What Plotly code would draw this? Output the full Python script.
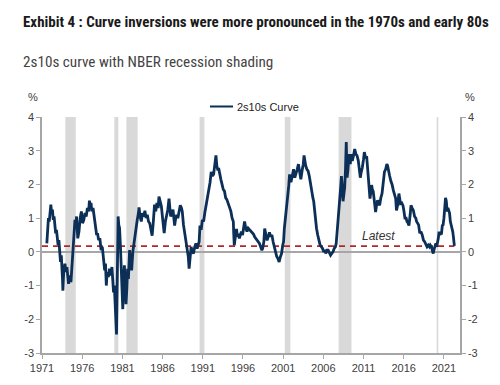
import plotly.graph_objects as go

# ---- data ----
curve_years = [
    1971.6, 1971.7, 1971.8, 1971.9, 1972.0, 1972.1, 1972.2, 1972.3, 1972.4, 1972.5, 1972.7, 1972.8,
    1973.0, 1973.1, 1973.3, 1973.4, 1973.55, 1973.6, 1973.7, 1973.85, 1974.0, 1974.1, 1974.3, 1974.4,
    1974.6, 1974.7, 1974.8, 1974.9, 1975.0, 1975.1, 1975.2, 1975.3, 1975.45, 1975.6, 1975.75, 1975.9,
    1976.05, 1976.2, 1976.35, 1976.5, 1976.65, 1976.8, 1976.9, 1977.0, 1977.1, 1977.2, 1977.35, 1977.5,
    1977.6, 1977.7, 1977.8, 1977.9, 1978.05, 1978.2, 1978.35, 1978.5, 1978.65, 1978.8, 1978.9, 1979.0,
    1979.1, 1979.25, 1979.4, 1979.55, 1979.7, 1979.8, 1979.9, 1980.0, 1980.1, 1980.2, 1980.27, 1980.33,
    1980.4, 1980.47, 1980.55, 1980.65, 1980.75, 1980.85, 1980.95, 1981.05, 1981.15, 1981.25, 1981.35, 1981.45,
    1981.55, 1981.65, 1981.75, 1981.9, 1982.0, 1982.15, 1982.3, 1982.4, 1982.55, 1982.7, 1982.85, 1983.0,
    1983.07, 1983.2, 1983.35, 1983.5, 1983.65, 1983.8, 1983.95, 1984.1, 1984.25, 1984.4, 1984.55, 1984.7,
    1984.85, 1985.0, 1985.15, 1985.3, 1985.45, 1985.55, 1985.7, 1985.85, 1986.0, 1986.1, 1986.2, 1986.35,
    1986.5, 1986.65, 1986.8, 1986.9, 1987.0, 1987.15, 1987.3, 1987.4, 1987.5, 1987.6, 1987.75, 1987.9,
    1988.05, 1988.2, 1988.35, 1988.45, 1988.6, 1988.75, 1988.9, 1989.05, 1989.2, 1989.3, 1989.4, 1989.55,
    1989.7, 1989.85, 1990.0, 1990.15, 1990.3, 1990.45, 1990.55, 1990.65, 1990.8, 1990.95, 1991.1, 1991.25,
    1991.4, 1991.5, 1991.65, 1991.8, 1991.9, 1992.05, 1992.2, 1992.35, 1992.45, 1992.55, 1992.64, 1992.75,
    1992.85, 1993.0, 1993.1, 1993.25, 1993.4, 1993.55, 1993.7, 1993.85, 1994.0, 1994.2, 1994.35, 1994.5,
    1994.65, 1994.8, 1994.85, 1994.92, 1995.0, 1995.1, 1995.2, 1995.3, 1995.4, 1995.55, 1995.7, 1995.8,
    1995.95, 1996.1, 1996.2, 1996.35, 1996.5, 1996.65, 1996.85, 1997.0, 1997.15, 1997.3, 1997.45, 1997.6,
    1997.75, 1997.9, 1998.05, 1998.2, 1998.35, 1998.45, 1998.6, 1998.7, 1998.85, 1999.0, 1999.15, 1999.3,
    1999.45, 1999.6, 1999.75, 1999.9, 2000.05, 2000.2, 2000.35, 2000.5, 2000.65, 2000.8, 2000.95, 2001.05,
    2001.15, 2001.25, 2001.4, 2001.55, 2001.7, 2001.8, 2001.9, 2002.0, 2002.15, 2002.3, 2002.45, 2002.6,
    2002.75, 2002.9, 2003.05, 2003.2, 2003.35, 2003.5, 2003.6, 2003.7, 2003.8, 2003.95, 2004.1, 2004.25,
    2004.4, 2004.55, 2004.7, 2004.8, 2004.9, 2005.0, 2005.15, 2005.3, 2005.45, 2005.6, 2005.75, 2005.9,
    2006.05, 2006.2, 2006.3, 2006.45, 2006.6, 2006.75, 2006.9, 2007.05, 2007.2, 2007.35, 2007.5, 2007.6,
    2007.7, 2007.85, 2007.95, 2008.05, 2008.15, 2008.25, 2008.35, 2008.45, 2008.55, 2008.65, 2008.75, 2008.85,
    2008.95, 2009.05, 2009.2, 2009.35, 2009.45, 2009.6, 2009.75, 2009.9, 2010.05, 2010.2, 2010.35, 2010.5,
    2010.6, 2010.7, 2010.85, 2011.0, 2011.1, 2011.25, 2011.4, 2011.5, 2011.6, 2011.7, 2011.8, 2011.9,
    2012.0, 2012.1, 2012.2, 2012.35, 2012.5, 2012.6, 2012.75, 2012.85, 2013.0, 2013.15, 2013.3, 2013.45,
    2013.6, 2013.75, 2013.9, 2014.0, 2014.1, 2014.25, 2014.4, 2014.55, 2014.7, 2014.85, 2015.0, 2015.1,
    2015.25, 2015.4, 2015.5, 2015.6, 2015.75, 2015.9, 2016.0, 2016.15, 2016.3, 2016.4, 2016.55, 2016.65,
    2016.8, 2016.9, 2017.05, 2017.2, 2017.35, 2017.5, 2017.6, 2017.75, 2017.85, 2018.0, 2018.15, 2018.3,
    2018.45, 2018.6, 2018.75, 2018.9, 2019.05, 2019.2, 2019.3, 2019.45, 2019.55, 2019.67, 2019.75, 2019.9,
    2020.0, 2020.1, 2020.2, 2020.3, 2020.4, 2020.5, 2020.6, 2020.7, 2020.8, 2020.9, 2021.0, 2021.1,
    2021.2, 2021.3, 2021.4, 2021.5, 2021.6, 2021.7, 2021.8, 2021.9, 2022.0, 2022.1, 2022.2, 2022.3,
]
curve_values = [
    0.25, 0.8, 1.0, 0.9, 1.25, 1.40, 1.15, 1.25, 0.95, 1.05, 0.55, 0.65,
    0.2, 0.35, -0.3, -0.1, -0.8, -1.15, -0.6, -0.35, -0.6, -0.45, -0.95, -0.7,
    -0.9, -0.55, -0.1, 0.2, 0.6, 0.95, 0.7, 1.05, 0.4, 0.6, 1.0, 1.2,
    0.85, 0.95, 1.15, 1.05, 1.3, 1.2, 1.52, 1.35, 1.45, 1.2, 1.3, 1.05,
    0.85, 0.75, 0.5, 0.55, 0.35, 0.4, 0.05, 0.15, -0.3, -0.55, -0.35, -1.0,
    -0.6, -0.75, -0.5, -0.7, -0.45, -0.9, -1.2, -1.0, -1.5, -1.9, -2.45, -1.4,
    -0.2, 1.05, 0.8, 0.7, 0.2, -0.3, -0.8, -1.7, -0.9, -0.4, -1.0, -1.55,
    -1.1, -0.5, -0.8, 0.05, -0.3, -0.55, 0.0, 0.2, 0.35, 0.7, 0.95, 1.15,
    1.32, 1.05, 0.9, 1.15, 1.05, 1.22, 1.0, 1.1, 0.9, 0.85, 0.6, 0.48,
    0.9, 1.4, 1.2, 1.45, 1.3, 1.64, 1.5, 1.35, 1.0, 0.7, 0.56, 0.9,
    1.05, 1.25, 1.58, 1.3, 1.05, 1.15, 1.25, 1.0, 0.78, 0.95, 1.1, 1.0,
    1.2, 1.38, 1.3, 1.2, 0.8, 0.55, 0.3, 0.05, -0.15, -0.5, -0.2, 0.15,
    0.0, -0.05, 0.15, 0.25, 0.1, 0.2, 0.3, 0.78, 0.65, 0.95, 0.9, 1.15,
    1.35, 1.5, 1.75, 1.95, 2.05, 2.37, 2.25, 2.3, 2.5, 2.7, 2.86, 2.55,
    2.45, 2.45, 2.3, 2.15, 2.0, 1.85, 1.8, 1.6, 1.55, 1.4, 1.3, 1.2,
    1.0, 0.9, 0.55, 0.19, 0.35, 0.6, 0.68, 0.45, 0.53, 0.4, 0.55, 0.6,
    0.5, 0.75, 0.9, 0.7, 0.6, 0.7, 0.65, 0.6, 0.55, 0.53, 0.45, 0.4,
    0.35, 0.3, 0.25, 0.15, 0.05, 0.1, 0.3, 0.69, 0.5, 0.34, 0.45, 0.58,
    0.45, 0.5, 0.3, 0.15, 0.05, -0.14, -0.2, -0.3, -0.15, -0.05, 0.2, 0.3,
    0.7, 0.9, 1.3, 1.6, 1.97, 2.3, 2.1, 2.1, 2.3, 2.45, 2.2, 2.3,
    2.45, 2.6, 2.35, 2.15, 2.4, 2.6, 2.86, 2.6, 2.56, 2.45, 2.4, 2.25,
    2.0, 1.85, 1.6, 1.5, 1.25, 1.0, 0.7, 0.5, 0.35, 0.2, 0.15, 0.1,
    0.0, 0.05, -0.05, 0.05, 0.05, -0.05, -0.1, -0.05, 0.0, 0.1, 0.15, 0.25,
    0.5, 0.9, 1.2, 1.6, 1.9, 2.25, 1.9, 1.5, 1.7, 1.9, 2.4, 3.26,
    2.2, 2.4, 2.9, 2.6, 2.9, 2.7, 2.85, 3.05, 2.9, 2.85, 2.7, 2.3,
    2.2, 2.35, 2.5, 2.75, 2.96, 2.8, 2.8, 2.5, 2.2, 1.9, 1.58, 1.75,
    1.98, 1.85, 1.8, 1.5, 1.18, 1.35, 1.53, 1.45, 1.38, 1.6, 1.73, 2.05,
    2.37, 2.45, 2.6, 2.55, 2.4, 2.25, 2.1, 2.0, 1.83, 1.7, 1.58, 1.23,
    1.4, 1.73, 1.6, 1.43, 1.45, 1.38, 1.25, 1.0, 1.0, 0.9, 0.85, 0.78,
    1.1, 1.38, 1.3, 1.23, 1.05, 1.0, 0.9, 0.85, 0.8, 0.55, 0.6, 0.5,
    0.35, 0.3, 0.2, 0.15, 0.2, 0.15, 0.2, 0.15, 0.05, -0.05, 0.05, 0.15,
    0.25, 0.15, 0.25, 0.4, 0.6, 0.5, 0.55, 0.55, 0.78, 0.8, 1.0, 1.3,
    1.6, 1.5, 1.2, 1.3, 1.2, 1.15, 0.9, 0.8, 0.78, 0.6, 0.4, 0.18,
]
latest_value = 0.17
recession_starts = [1973.9, 1980.0, 1981.5, 1990.6, 2001.2, 2007.9, 2020.1]
recession_ends = [1975.2, 1980.5, 1982.9, 1991.2, 2001.9, 2009.5, 2020.3]
x_ticks = [1971, 1976, 1981, 1986, 1991, 1996, 2001, 2006, 2011, 2016, 2021]
y_ticks = [-3, -2, -1, 0, 1, 2, 3, 4]
y_tick_text = ["-3", "-2", "-1", "0", "1", "2", "3", "4"]

X_RANGE = [1971, 2023]
Y_RANGE = [-3, 4]
AXIS_GREY = "#a6a6a6"
LINE_COLOR = "#0c2f57"
TICK_FONT = dict(family="Liberation Sans, Arial, sans-serif", size=11, color="#404040")
NARROW = "Roboto Condensed, Roboto, sans-serif"

fig = go.Figure()

# recession shading
for s, e in zip(recession_starts, recession_ends):
    fig.add_shape(type="rect", xref="x", yref="y", x0=s, x1=e, y0=Y_RANGE[0], y1=Y_RANGE[1],
                  fillcolor="#d9d9d9", line=dict(width=0), layer="below")

# latest dashed line
fig.add_trace(go.Scatter(x=[X_RANGE[0], curve_years[-1]], y=[latest_value, latest_value],
                         mode="lines", line=dict(color="#b0282c", width=1.8, dash="6px,5px"),
                         showlegend=False, hoverinfo="skip"))

# curve
fig.add_trace(go.Scatter(x=curve_years, y=curve_values, mode="lines", name="2s10s Curve",
                         line=dict(color=LINE_COLOR, width=2.8), showlegend=False))

# invisible trace for right axis
fig.add_trace(go.Scatter(x=[X_RANGE[0]], y=[0], yaxis="y2", mode="markers",
                         marker=dict(opacity=0), showlegend=False, hoverinfo="skip"))

W, H = 500, 385
ML, MR, MT, MB = 42, 40, 117, 32
PW, PH = W - ML - MR, H - MT - MB


def px(xp):
    return (xp - ML) / PW


def py(yp):
    return (H - MB - yp) / PH


fig.update_layout(
    width=W, height=H,
    margin=dict(l=ML, r=MR, t=MT, b=MB, autoexpand=False),
    paper_bgcolor="white", plot_bgcolor="white",
    showlegend=False,
    xaxis=dict(range=X_RANGE, tickvals=x_ticks, ticktext=[str(t) for t in x_ticks],
               showgrid=False, zeroline=False, showline=True, linecolor=AXIS_GREY, linewidth=1.5,
               ticks="outside", ticklen=4, tickcolor=AXIS_GREY, tickfont=TICK_FONT),
    yaxis=dict(range=Y_RANGE, tickvals=y_ticks, ticktext=y_tick_text,
               showgrid=False, zeroline=True, zerolinecolor=AXIS_GREY, zerolinewidth=1.5,
               showline=True, linecolor=AXIS_GREY, linewidth=1.5,
               ticks="outside", ticklen=4, tickcolor=AXIS_GREY, tickfont=TICK_FONT),
    yaxis2=dict(range=Y_RANGE, tickvals=y_ticks, ticktext=y_tick_text, overlaying="y", side="right",
                showgrid=False, zeroline=False, showline=True, linecolor=AXIS_GREY, linewidth=1.5,
                ticks="outside", ticklen=4, tickcolor=AXIS_GREY, tickfont=TICK_FONT),
)

# legend drawn by hand (line sample + label)
fig.add_shape(type="line", xref="paper", yref="paper", x0=px(210), x1=px(233), y0=py(106.5), y1=py(106.5),
              line=dict(color=LINE_COLOR, width=2))

annotations = [
    dict(text="<b>Exhibit 4 : Curve inversions were more pronounced in the 1970s and early 80s</b>",
         xref="paper", yref="paper", x=px(21), y=py(22), xanchor="left", yanchor="middle",
         showarrow=False, font=dict(family=NARROW, size=15.0, color="#1a1a1a")),
    dict(text="2s10s curve with NBER recession shading",
         xref="paper", yref="paper", x=px(21), y=py(62), xanchor="left", yanchor="middle",
         showarrow=False, font=dict(family=NARROW, size=15.2, color="#444")),
    dict(text="2s10s Curve", xref="paper", yref="paper", x=px(235), y=py(106.5), xanchor="left",
         yanchor="middle", showarrow=False, font=dict(family="Liberation Sans, Arial, sans-serif", size=11, color="#222")),
    dict(text="%", xref="paper", yref="paper", x=px(33), y=py(97), xanchor="center", yanchor="middle",
         showarrow=False, font=TICK_FONT),
    dict(text="%", xref="paper", yref="paper", x=px(470), y=py(97), xanchor="center", yanchor="middle",
         showarrow=False, font=TICK_FONT),
    dict(text="<i>Latest</i>", xref="x", yref="y", x=2012.8, y=0.48, xanchor="center", yanchor="middle",
         showarrow=False, font=dict(family="Liberation Sans, Arial, sans-serif", size=12, color="#333")),
]
fig.update_layout(annotations=annotations)

fig.write_html("out.html", config={"displayModeBar": False},
               post_script="document.body.style.margin='0';document.body.style.padding='0';")
